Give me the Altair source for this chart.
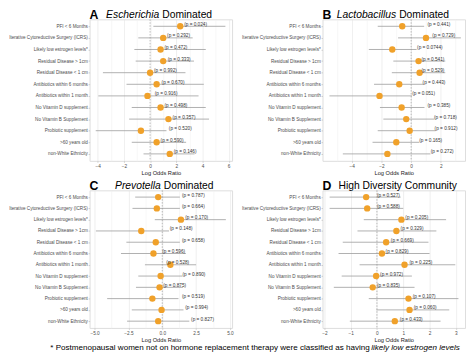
import altair as alt
import pandas as pd

cats = ["PFI < 6 Months", "Iterative Cytoreductive Surgery (ICRS)", "Likely low estrogen levels*",
        "Residual Disease > 1cm", "Residual Disease < 1 cm", "Antibiotics within 6 months",
        "Antibiotics within 1 month", "No Vitamin D supplement", "No Vitamin B Supplement",
        "Probiotic supplement", ">60 years old", "non-White Ethnicity"]

# Panel A: Escherichia
est_a = [2.3, 1.0, 0.8, 1.0, 0.0, 0.5, -0.2, 0.8, 1.4, -0.7, 0.5, 1.5]
lo_a = [0.25, -0.9, -1.2, -1.1, -3.6, -1.8, -3.95, -1.4, -1.6, -4.15, -1.4, -0.5]
hi_a = [5.75, 3.25, 4.25, 3.35, 2.7, 4.1, 3.7, 4.25, 4.5, 1.25, 2.75, 3.4]
p_a = ["0.024", "0.292", "0.472", "0.333", "0.992", "0.670", "0.916", "0.498", "0.357", "0.520", "0.590", "0.146"]
lab_a = [2.6, 1.3, 1.1, 1.35, 0.3, 0.88, 0.35, 1.1, 1.72, 1.43, 0.8, 1.8]

# Panel B: Lactobacillus
est_b = [-0.6, 1.0, -1.27, 0.5, 0.57, -0.8, -2.13, -0.64, -0.33, -0.1, -1.0, -1.6]
lo_b = [-2.25, -0.88, -2.85, -1.2, -1.3, -2.5, -5.5, -2.1, -1.87, -2.25, -2.6, -4.6]
hi_b = [0.88, 3.35, 0.37, 2.3, 2.3, 0.85, 0.05, 0.9, 1.55, 1.65, 0.55, 1.3]
p_b = ["0.441", "0.729", "0.0744", "0.541", "0.529", "0.443", "0.051", "0.385", "0.718", "0.912", "0.165", "0.272"]
lab_b = [1.1, 1.43, 0.4, 0.7, 0.7, 0.77, 0.07, 1.1, 1.54, 1.58, 0.55, 1.32]

# Panel C: Prevotella
est_c = [-0.3, -0.4, 1.38, -1.55, -0.48, -0.65, 0.6, -0.12, -0.2, -0.73, -0.05, -0.3]
lo_c = [-2.0, -2.2, -0.55, -4.9, -2.65, -3.05, -1.28, -1.77, -1.94, -4.07, -2.25, -2.6]
hi_c = [1.3, 1.3, 4.7, 0.5, 1.3, 1.75, 2.5, 1.5, 1.54, 1.2, 1.57, 2.0]
p_c = ["0.787", "0.664", "0.170", "0.148", "0.658", "0.596", "0.528", "0.890", "0.875", "0.519", "0.994", "0.827"]
lab_c = [1.45, 1.45, 1.7, 0.55, 1.45, 0.0, 0.3, 1.5, 0.07, 1.45, 1.7, 2.13]

# Panel D: High diversity
est_d = [-0.41, -0.37, 0.93, 0.74, 0.35, 0.19, 1.05, -0.03, -0.16, 1.2, 1.24, 0.68]
lo_d = [-1.8, -1.8, -0.5, -0.74, -1.3, -1.46, -0.66, -1.34, -1.64, -0.31, -0.02, -1.03]
hi_d = [0.9, 1.0, 2.63, 2.26, 1.96, 2.0, 2.98, 1.33, 1.43, 3.1, 2.75, 2.42]
p_d = ["0.527", "0.588", "0.205", "0.329", "0.669", "0.829", "0.225", "0.972", "0.835", "0.107", "0.060", "0.433"]
lab_d = [0.0, 0.0, 1.08, 0.9, 0.53, 0.33, 1.24, 0.12, 0.0, 1.36, 1.4, 0.87]

FONT = "Liberation Sans"
ORANGE = "#F0A12A"


def panel(est, lo, hi, pv, labx, dom, major, minor, fmt, letter, genus, rest, shift, w, h, footnote=False):
    df = pd.DataFrame({"label": cats, "est": est, "lo": lo, "hi": hi,
                       "p": ["(p = %s)" % v for v in pv], "tx": labx})
    majors_js = "[" + ",".join(str(v) for v in major) + "]"
    is_major = "indexof(%s, datum.value) >= 0" % majors_js
    xscale = alt.Scale(domain=dom, nice=False, zero=False)
    xaxis = alt.Axis(
        values=sorted(major + minor), format=fmt,
        labelExpr="%s ? datum.label : ''" % is_major,
        title="Log Odds Ratio", labelOverlap=False, labelFlush=False, domain=False,
        tickSize=1.5, tickColor="#b3b3b3", tickWidth=0.6,
        tickOpacity={"condition": {"test": is_major, "value": 1}, "value": 0},
        gridColor={"condition": {"test": is_major, "value": "#e3e3e3"}, "value": "#f1f1f1"},
        gridWidth=0.6, labelFontSize=4.8, labelColor="#4d4d4d", labelPadding=1,
        titleFontSize=5.8, titleFontWeight="normal", titleColor="#1a1a1a", titlePadding=1.5)
    yaxis = alt.Axis(title=None, domain=False, tickSize=1.5, tickColor="#b3b3b3", tickWidth=0.6,
                     labelFontSize=4.7, labelColor="#4d4d4d", labelPadding=0.8, labelLimit=300,
                     gridColor="#ececec", gridWidth=0.6)
    yenc = alt.Y("label:N", sort=cats, scale=alt.Scale(type="point", padding=0.6), axis=yaxis)

    def X(field):
        return alt.X(field, scale=xscale, axis=xaxis)

    base = alt.Chart(df)
    zero = alt.Chart(pd.DataFrame({"z": [0]})).mark_rule(
        strokeDash=[1.5, 1.5], color="#8c8c8c", strokeWidth=0.6).encode(x=X("z:Q"))
    ci = base.mark_rule(color="#9c9c9c", strokeWidth=0.8).encode(x=X("lo:Q"), x2="hi:Q", y=yenc)
    pts = base.mark_circle(size=42, color=ORANGE, opacity=1).encode(x=X("est:Q"), y=yenc)
    txt = base.mark_text(align="left", baseline="middle", dy=-1.5, fontSize=4.8,
                         color="#333333").encode(x=X("tx:Q"), y=yenc, text="p:N")

    one = lambda s: alt.Chart(pd.DataFrame({"t": [s]}))
    layers = [zero, ci, pts, txt]
    layers.append(one(letter).mark_text(align="left", baseline="alphabetic", fontSize=12.5,
                                        fontWeight="bold", color="#000").encode(
        text="t:N", x=alt.value(0), y=alt.value(0)))
    if rest is None:
        layers.append(one(genus).mark_text(align="center", baseline="alphabetic", fontSize=10.5,
                                           color="#000").encode(
            text="t:N", x=alt.value(w / 2 + shift), y=alt.value(-1)))
    else:
        layers.append(one(genus).mark_text(align="right", baseline="alphabetic", fontSize=10.5,
                                           fontStyle="italic", color="#000").encode(
            text="t:N", x=alt.value(w / 2 + shift - 1.5), y=alt.value(-1)))
        layers.append(one(rest).mark_text(align="left", baseline="alphabetic", fontSize=10.5,
                                          color="#000").encode(
            text="t:N", x=alt.value(w / 2 + shift + 1.5), y=alt.value(-1)))
    if footnote:
        layers.append(one("* Postmenopausal women not on hormone replacement therapy were classified as having ")
                      .mark_text(align="right", baseline="middle", fontSize=8.2, color="#000").encode(
            text="t:N", x=alt.value(285), y=alt.value(h + 20)))
        layers.append(one("likely low estrogen levels")
                      .mark_text(align="left", baseline="middle", fontSize=8.2, fontStyle="italic",
                                 color="#000").encode(
            text="t:N", x=alt.value(286.5), y=alt.value(h + 20)))
    return alt.layer(*layers).properties(width=w, height=h)


A = panel(est_a, lo_a, hi_a, p_a, lab_a, [-4.62, 6.26], [-4, -2, 0, 2, 4, 6], [-3, -1, 1, 3, 5],
          "d", "A", "Escherichia", "Dominated", 0, 145, 144)
B = panel(est_b, lo_b, hi_b, p_b, lab_b, [-5.97, 3.63], [-4, -2, 0, 2], [-5, -3, -1, 1, 3],
          "d", "B", "Lactobacillus", "Dominated", 4, 145, 144)
C = panel(est_c, lo_c, hi_c, p_c, lab_c, [-5.37, 5.16], [-5.0, -2.5, 0.0, 2.5, 5.0],
          [-3.75, -1.25, 1.25, 3.75], ".1f", "C", "Prevotella", "Dominated", 1.5, 145, 140,
          footnote=True)
D = panel(est_d, lo_d, hi_d, p_d, lab_d, [-2.07, 3.35], [-2, -1, 0, 1, 2, 3],
          [-1.5, -0.5, 0.5, 1.5, 2.5], "d", "D", "High Diversity Community", None, 4, 145, 140)

chart = alt.concat(A, B, C, D, columns=2, spacing={"row": 30, "column": 92}, bounds="flush").properties(
    padding={"left": 0, "top": -2.5, "right": 0, "bottom": 0},
).configure_view(stroke="#c4c4c4", strokeWidth=0.7).configure(font=FONT)

chart.save("out.html", embed_options={"renderer": "svg", "actions": False})
